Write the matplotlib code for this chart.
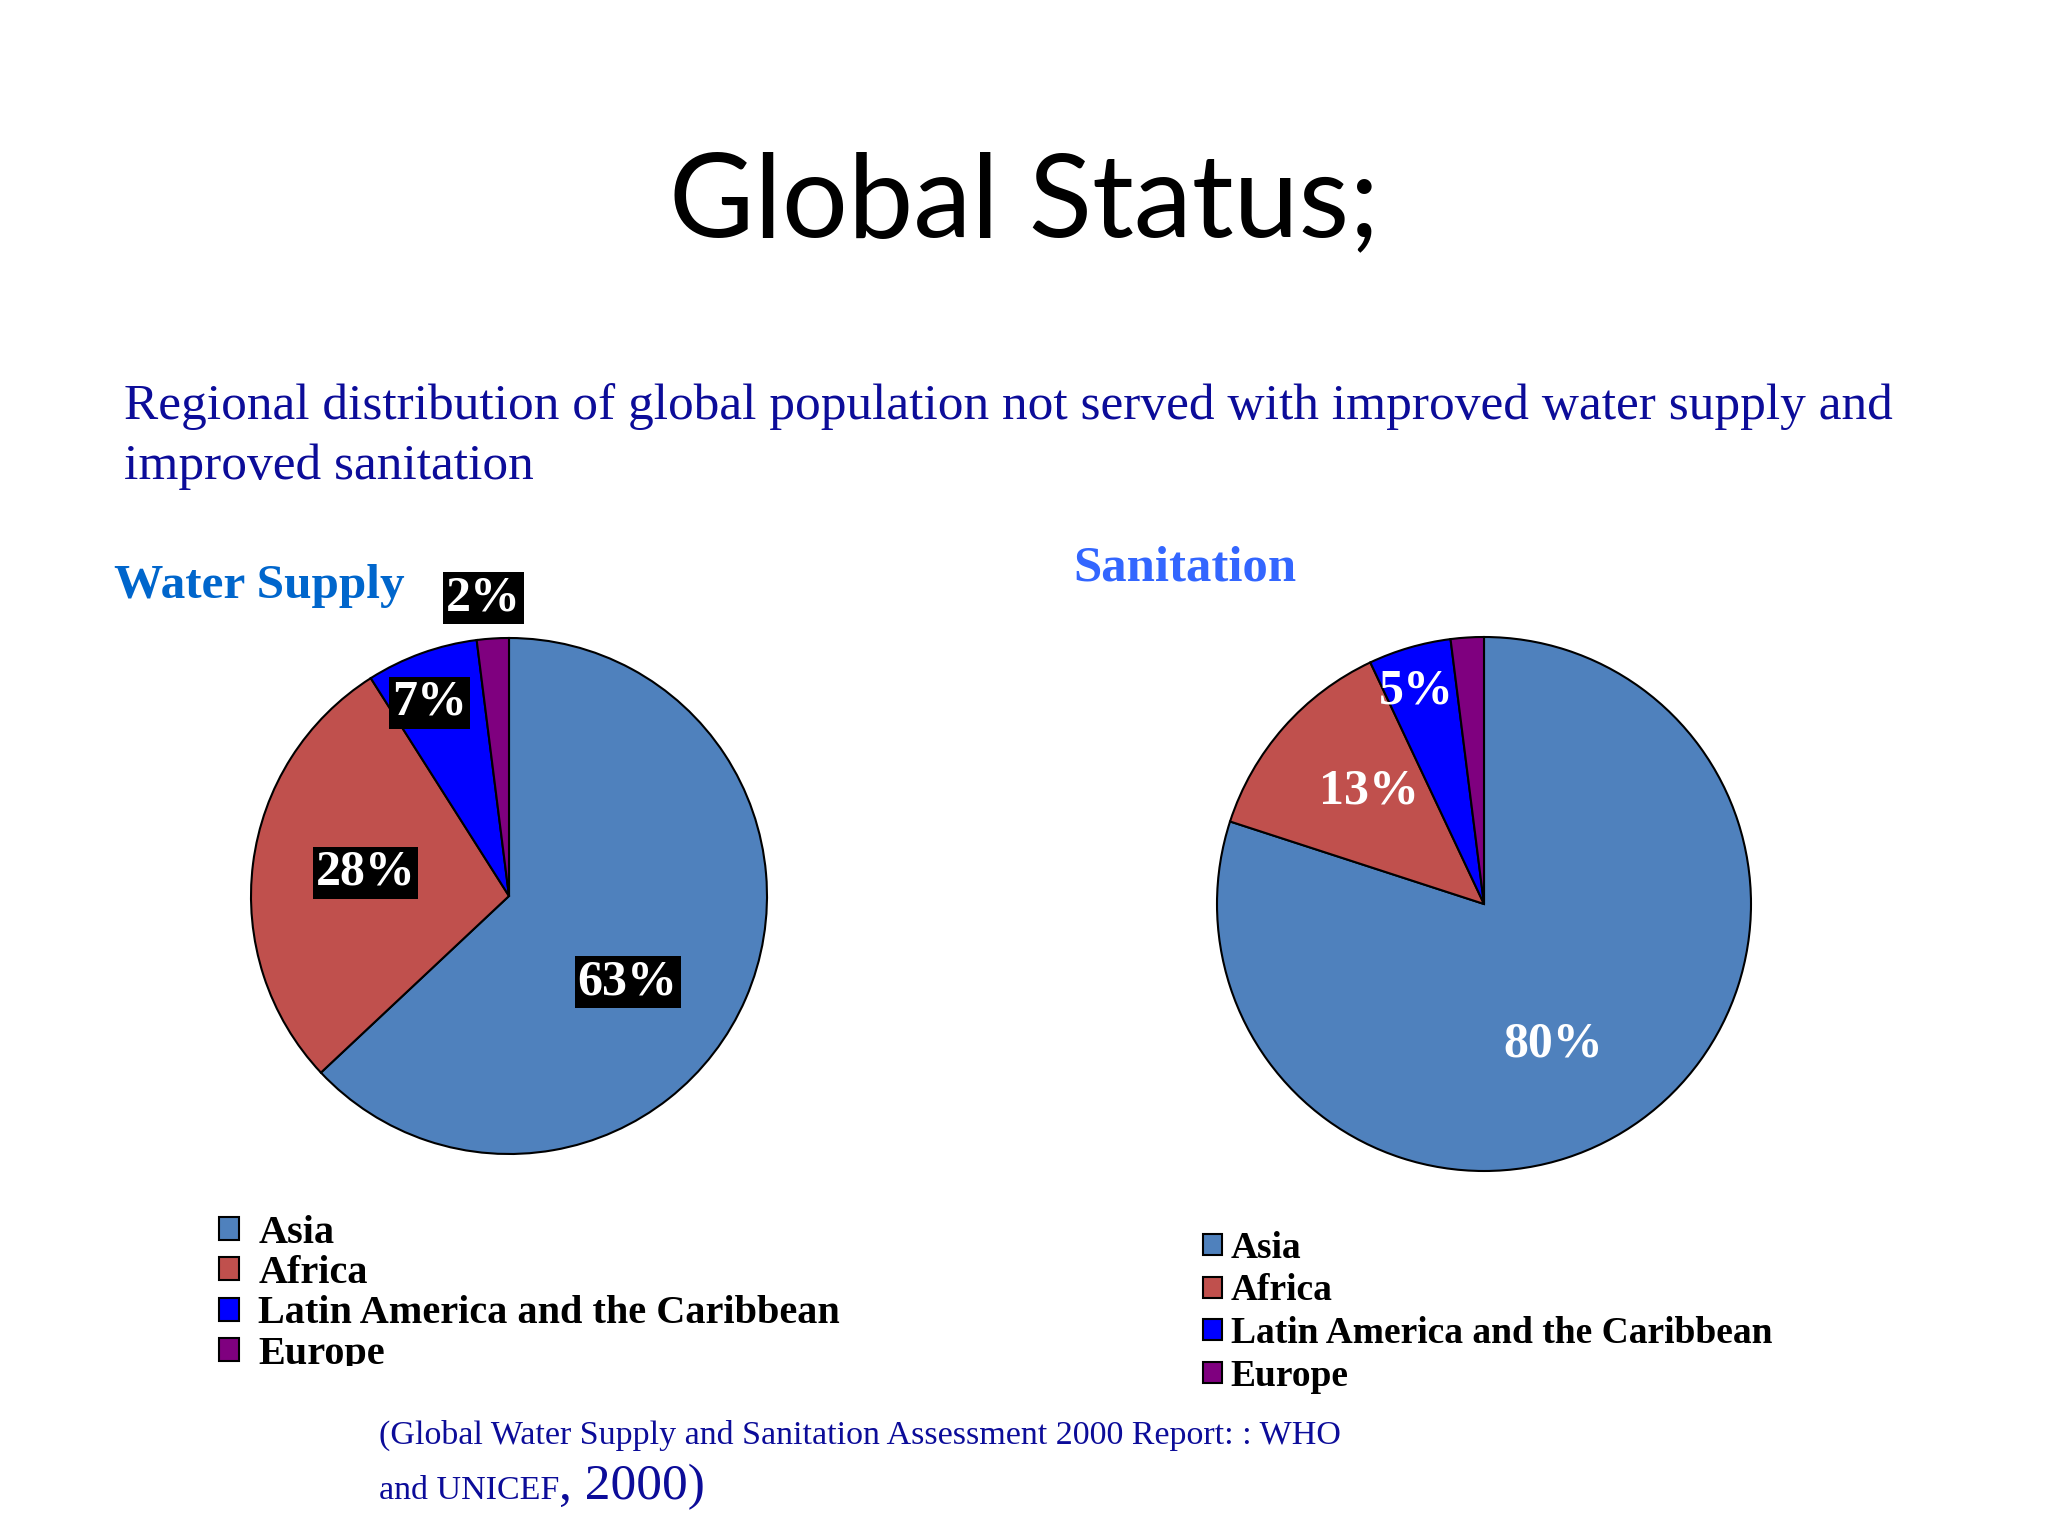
import matplotlib
matplotlib.use("Agg")
import matplotlib.pyplot as plt
from matplotlib.patches import Rectangle

# Data
REGIONS = ["Asia", "Africa", "Latin America and the Caribbean", "Europe"]
COLORS = ["#4f81bd", "#c0504d", "#0000ff", "#7f007f"]
WATER_SHARE = [63, 28, 7, 2]
SANITATION_SHARE = [80, 13, 5, 2]
WATER_LABELS = ["63%", "28%", "7%", "2%"]
SANITATION_LABELS = ["80%", "13%", "5%", ""]

TITLE = "Global Status;"
SUBTITLE = ("Regional distribution of global population not served with improved water supply and\n"
            "improved sanitation")
SOURCE_LINE1 = "(Global Water Supply and Sanitation Assessment 2000 Report: : WHO"
SOURCE_LINE2A = "and UNICEF"
SOURCE_LINE2B = ", 2000)"

# Layout (label positions in pie-radius units)
WATER_LABEL_POS = [(0.46, -0.335), (-0.556, 0.09), (-0.308, 0.75), (-0.10, 1.155)]
SANITATION_LABEL_POS = [(0.26, -0.525), (-0.43, 0.42), (-0.254, 0.795), (0, 0)]

W, H = 2048, 1536
SERIF = "Liberation Serif"
NAVY = "#0c0c99"
PAD = 1.02


def fx(x):
    return x / W


def fy(y):
    return 1 - y / H


def pie_axes(fig, cx, cy, r):
    r = r * PAD
    ax = fig.add_axes([fx(cx - r), fy(cy + r), 2 * r / W, 2 * r / H])
    ax.axis("off")
    return ax


def draw_pie(ax, values, labels, positions, boxed):
    wedges, _ = ax.pie(values, colors=COLORS, startangle=90, counterclock=False,
                       radius=1.0, center=(0, 0),
                       wedgeprops=dict(edgecolor="black", linewidth=1.5))
    ax.set_xlim(-PAD, PAD)
    ax.set_ylim(-PAD, PAD)
    for lab, (x, y) in zip(labels, positions):
        if not lab:
            continue
        kw = dict(ha="center", va="center", fontsize=36, fontweight="bold",
                  family=SERIF, color="white", clip_on=False)
        if boxed:
            kw["bbox"] = dict(facecolor="black", edgecolor="none", pad=2)
        ax.text(x, y, lab, **kw)
    return wedges


def add_legend(ax, wedges, left, top, size, textpad, spacing):
    leg = ax.legend(wedges, REGIONS, loc="upper left",
                    bbox_to_anchor=(fx(left), fy(top)),
                    bbox_transform=ax.figure.transFigure,
                    frameon=False, prop=dict(family=SERIF, weight="bold", size=size),
                    handlelength=0.5, handleheight=0.5, handletextpad=textpad,
                    labelspacing=spacing, borderpad=0, borderaxespad=0)
    return leg


fig = plt.figure(figsize=(W / 100, H / 100), dpi=100)
fig.patch.set_facecolor("white")

fig.text(0.5, fy(236), TITLE, ha="center", va="baseline",
         family="Lato", fontsize=84, color="black")
# va="baseline" on multi-line text anchors the last line
fig.text(fx(124), fy(479), SUBTITLE, ha="left", va="baseline",
         family=SERIF, fontsize=37, color=NAVY, linespacing=1.37)

fig.text(fx(114), fy(598), "Water Supply", ha="left", va="baseline",
         family=SERIF, fontweight="bold", fontsize=35.5, color="#0066cc")
fig.text(fx(1073), fy(580), "Sanitation", ha="left", va="baseline",
         family=SERIF, fontweight="bold", fontsize=36.5, color="#3366ff")

ax_w = pie_axes(fig, 509, 896, 258)
w_wedges = draw_pie(ax_w, WATER_SHARE, WATER_LABELS, WATER_LABEL_POS, boxed=True)
add_legend(ax_w, w_wedges, 219, 1215, 29, 0.48, 0.08)

ax_s = pie_axes(fig, 1484, 904, 267)
s_wedges = draw_pie(ax_s, SANITATION_SHARE, SANITATION_LABELS, SANITATION_LABEL_POS, boxed=False)
add_legend(ax_s, s_wedges, 1203, 1231, 27, 0.24, 0.2)

# the water legend is cut off at the bottom in the original slide
fig.patches.append(Rectangle((fx(180), fy(1400)), fx(800), (1400 - 1366) / H,
                             transform=fig.transFigure, facecolor="white",
                             edgecolor="none", zorder=10))

fig.text(fx(379), fy(1444), SOURCE_LINE1, ha="left", va="baseline",
         family=SERIF, fontsize=24.5, color=NAVY)
t2a = fig.text(fx(379), fy(1499), SOURCE_LINE2A, ha="left", va="baseline",
               family=SERIF, fontsize=24.5, color=NAVY)
fig.canvas.draw()
bb = t2a.get_window_extent()
fig.text(bb.x1 / W, fy(1499), SOURCE_LINE2B, ha="left", va="baseline",
         family=SERIF, fontsize=37, color=NAVY)

fig.savefig("out.png", dpi=100, facecolor="white")
